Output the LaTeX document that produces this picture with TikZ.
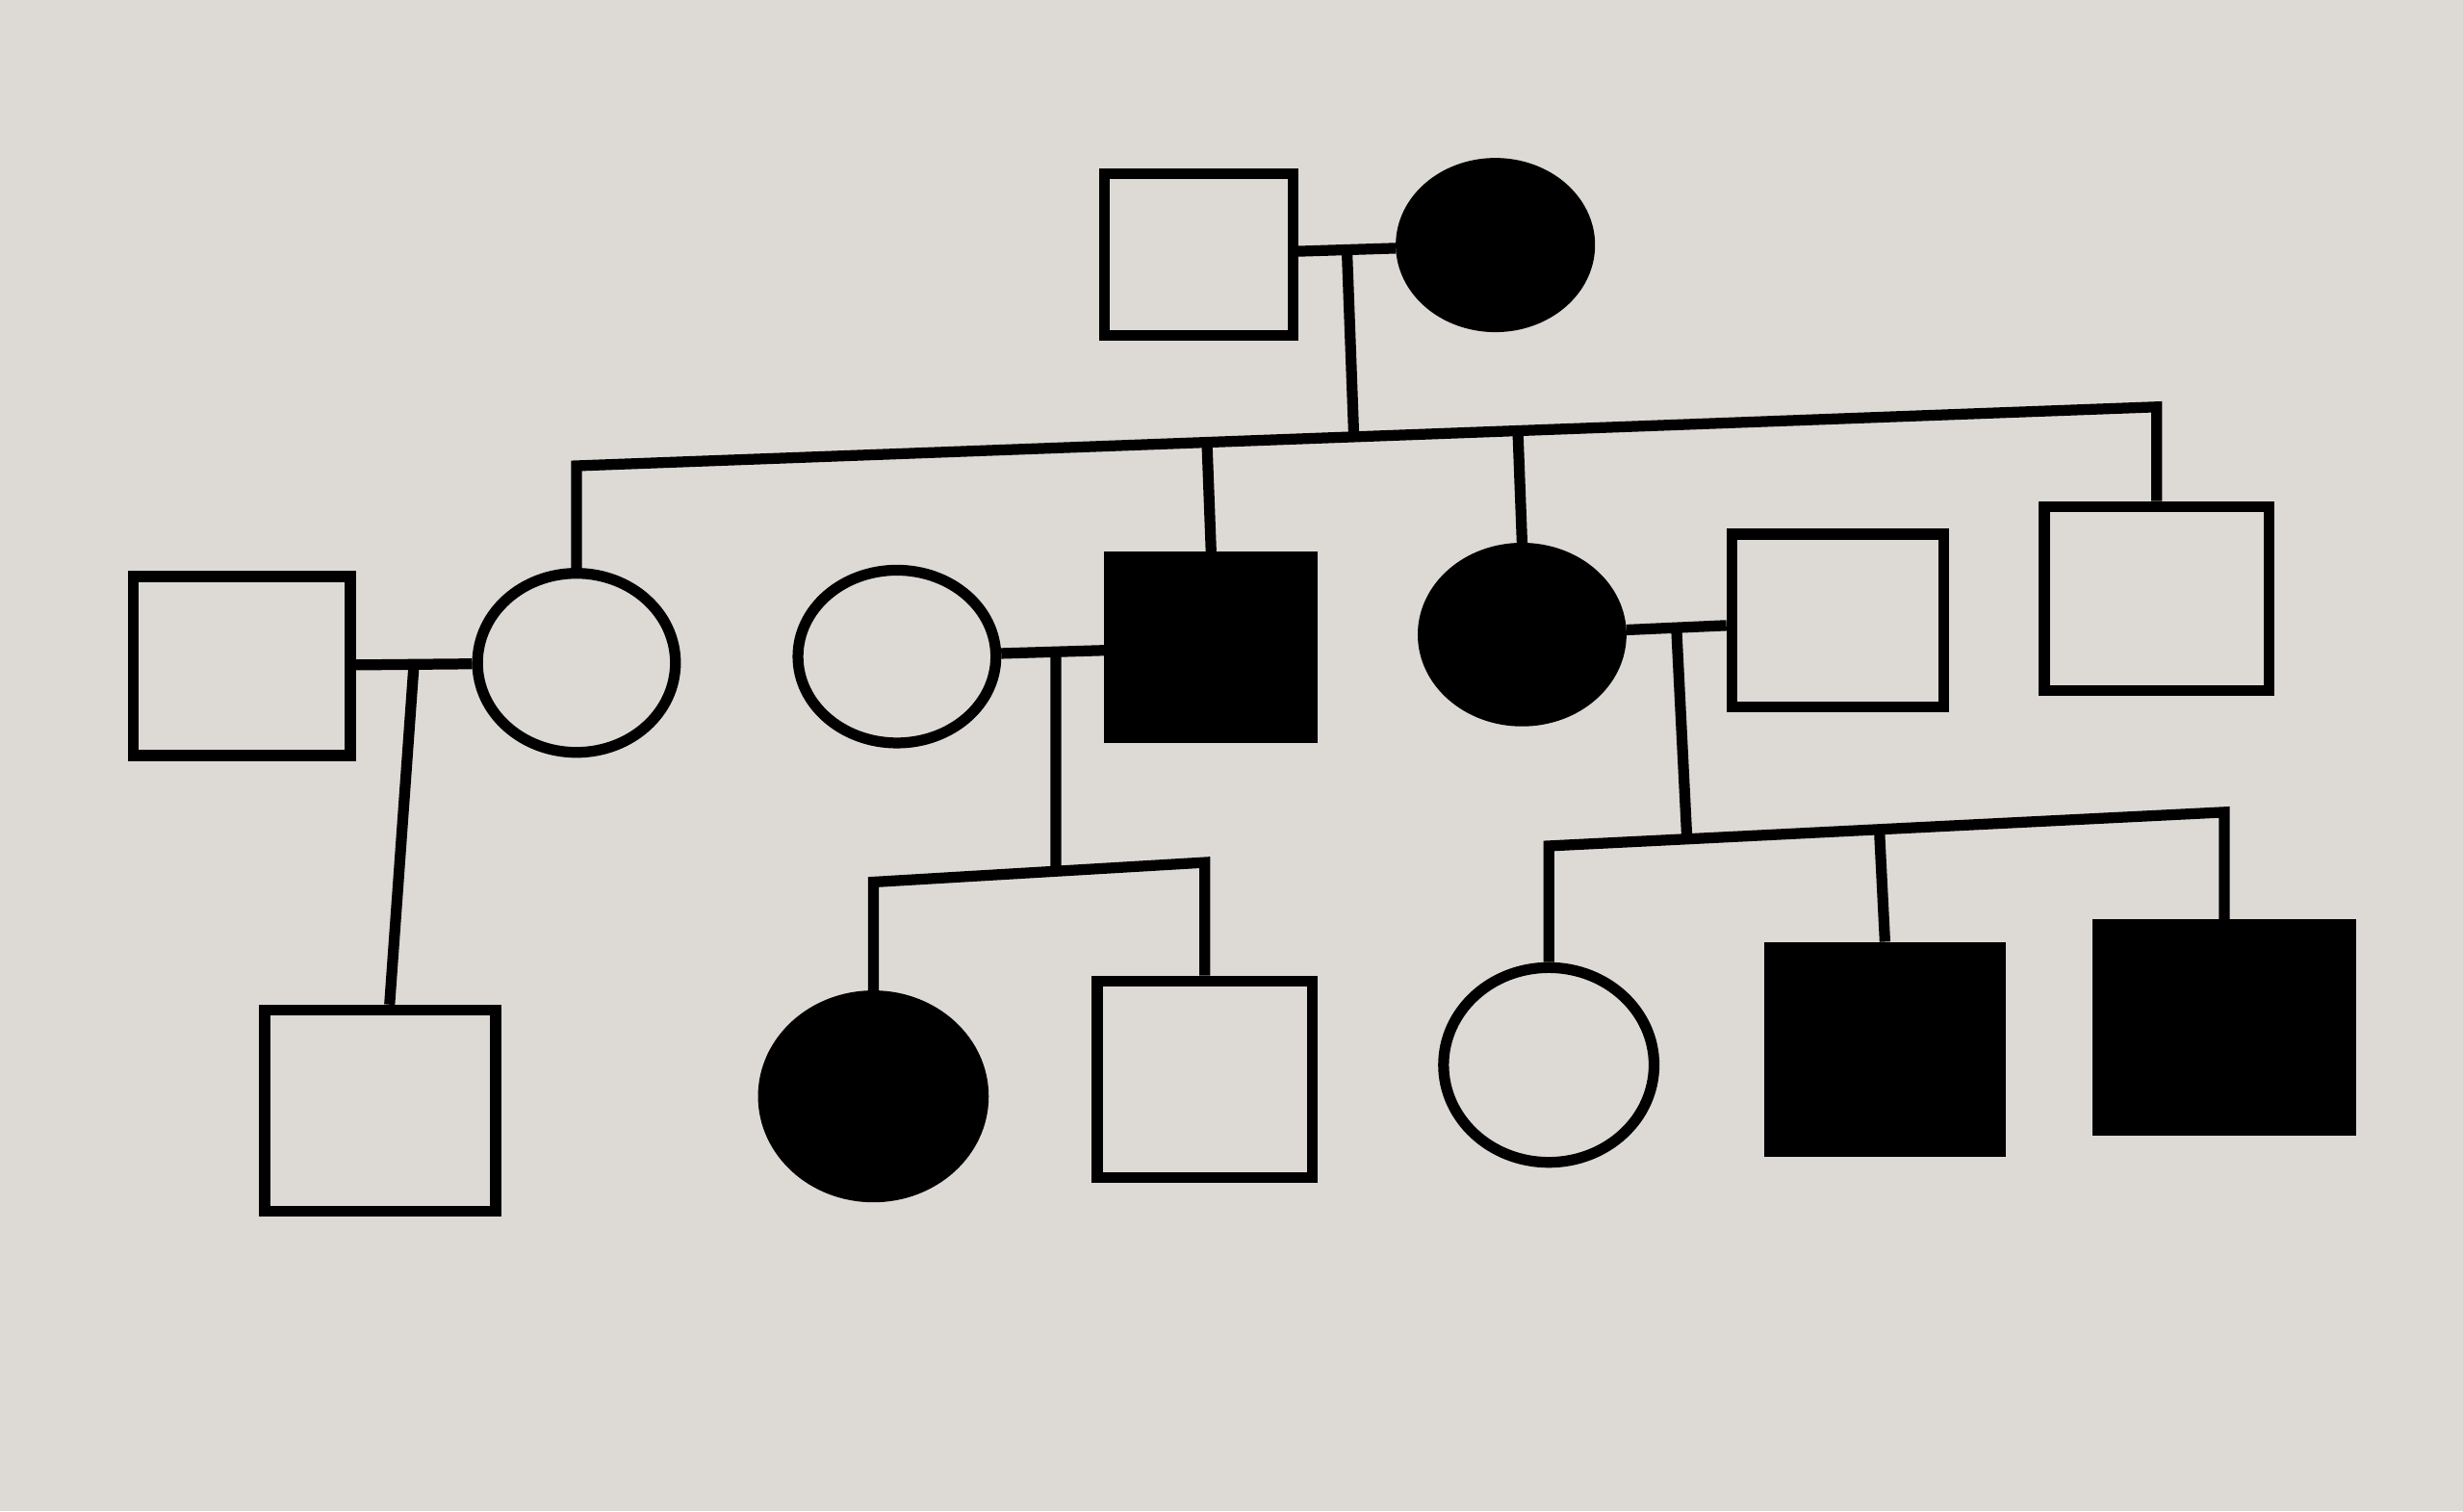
\documentclass[tikz,border=0pt]{standalone}
\usepackage{xcolor}
\usepackage{tikz}
\usetikzlibrary{calc, shapes.geometric}

\definecolor{paper}{RGB}{221,218,214}

\tikzset{
	male/.style 2 args = {draw, rectangle, inner sep = 0pt, minimum width = #1*\px, minimum height = #2*\px},
	female/.style 2 args = {draw, ellipse, inner sep = 0pt, minimum width = #1*\px, minimum height = #2*\px},
	affected/.style = {fill = black},
}

\begin{document}
\begin{tikzpicture}
		\def\px{0.01632cm};

		\begin{scope}[x = \px, y = -\px, line width = 3.2pt]
			\fill[paper] (0,0) rectangle (1568,962);
			\useasboundingbox (0,0) rectangle (1568,962);

			% generation I
			\node[male = {120}{103}] (i1) at (763,162) {};
			\node[female = {120}{104}, affected] (i2) at (952,156) {};

			% generation II
			\node[male = {138}{114}] (ii1) at (154,424) {};
			\node[female = {126}{114}] (ii2) at (367,422) {};
			\node[female = {126}{110}] (ii3) at (571,418) {};
			\node[male = {129}{115}, affected] (ii4) at (771,412) {};
			\node[female = {126}{110}, affected] (ii5) at (969,404) {};
			\node[male = {135}{110}] (ii6) at (1170,395) {};
			\node[male = {143}{117}] (ii7) at (1373,381) {};

			% generation III
			\node[male = {147}{128}] (iii1) at (242,707) {};
			\node[female = {140}{128}, affected] (iii2) at (556,698) {};
			\node[male = {137}{125}] (iii3) at (767,687) {};
			\node[female = {134}{124}] (iii4) at (986,678) {};
			\node[male = {147}{130}, affected] (iii5) at (1200,668) {};
			\node[male = {161}{131}, affected] (iii6) at (1416,654) {};

			% marriages
			\draw (i1) -- (i2);
			\draw (ii1) -- (ii2);
			\draw (ii3) -- (ii4);
			\draw (ii5) -- (ii6);

			\coordinate (m1) at ($(i1.east)!0.5!(i2.west)$);
			\coordinate (m2) at ($(ii1.east)!0.5!(ii2.west)$);
			\coordinate (m3) at ($(ii3.east)!0.53!(ii4.west)$);
			\coordinate (m3b) at ($(m3) + (0,200)$);
			\coordinate (m4) at ($(ii5.east)!0.5!(ii6.west)$);

			% sibships
			\coordinate (s1L) at ($(ii2.north) + (0,-65)$);
			\coordinate (s1R) at ($(ii7.north) + (0,-60)$);
			\coordinate (s3L) at ($(iii2.north) + (0,-69)$);
			\coordinate (s3R) at ($(iii3.north) + (0,-72)$);
			\coordinate (s4L) at ($(iii4.north) + (0,-74)$);
			\coordinate (s4R) at ($(iii6.north) + (0,-68)$);

			\draw (ii2.north) -- (s1L) -- (s1R) -- (ii7.north);
			\draw (iii2.north) -- (s3L) -- (s3R) -- (iii3.north);
			\draw (iii4.north) -- (s4L) -- (s4R) -- (iii6.north);

			\draw (m1) -- ($(s1L)!(m1)!(s1R)$);
			\draw (m2) -- ($(iii1.north) + (6,0)$);
			\draw (m3) -- (intersection of s3L--s3R and m3--m3b);
			\draw (m4) -- ($(s4L)!(m4)!(s4R)$);

			\draw (ii4.north) -- ($(s1L)!(ii4.north)!(s1R)$);
			\draw (ii5.north) -- ($(s1L)!(ii5.north)!(s1R)$);
			\draw (iii5.north) -- ($(s4L)!(iii5.north)!(s4R)$);
		\end{scope}
	\end{tikzpicture}
\end{document}
